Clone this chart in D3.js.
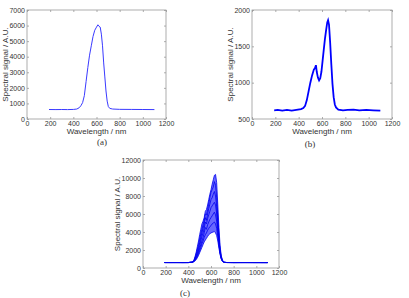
<!DOCTYPE html>
<html>
<head>
<meta charset="utf-8">
<script src="https://cdn.jsdelivr.net/npm/d3@7"></script>
<style>
  body { margin: 0; background: #fff; }
  text { font-family: "Liberation Sans", Arial, sans-serif; fill: #333; }
</style>
</head>
<body>
<div id="chart"></div>
<script>
// Panel (a): single spectrum
const wlA = [190, 250, 300, 350, 400, 430, 450, 465, 480, 495, 510, 525, 540, 555, 570, 585, 600, 612, 622, 632, 642, 652, 662, 672, 682, 692, 702, 715, 740, 800, 900, 1000, 1100];
const sigA = [610, 605, 610, 605, 615, 640, 720, 850, 1050, 1500, 2400, 3300, 4100, 4700, 5300, 5700, 5900, 6050, 5950, 5900, 5450, 4700, 3600, 2700, 1800, 1150, 800, 680, 640, 620, 615, 610, 605];

// Panel (b): two-peak spectrum
const wlB = [190, 220, 260, 300, 340, 380, 420, 440, 455, 470, 485, 500, 515, 530, 540, 548, 555, 565, 575, 585, 595, 605, 615, 625, 635, 645, 652, 660, 670, 680, 690, 700, 710, 720, 740, 780, 820, 870, 920, 980, 1040, 1100];
const sigB = [620, 625, 615, 625, 615, 625, 635, 650, 680, 760, 880, 1000, 1100, 1180, 1200, 1240, 1150, 1070, 1030, 1060, 1150, 1300, 1450, 1600, 1720, 1830, 1860, 1800, 1550, 1250, 980, 800, 700, 660, 630, 620, 625, 630, 620, 625, 620, 615];

// Panel (c): set of spectra
const wlC = [190, 250, 300, 350, 400, 430, 440, 450, 460, 470, 480, 490, 500, 510, 520, 530, 540, 550, 560, 570, 580, 590, 600, 610, 620, 630, 640, 650, 660, 670, 680, 690, 700, 710, 720, 740, 800, 900, 1000, 1100];
const sigC = [
  [610, 600, 605, 600, 610, 630, 650, 700, 800, 950, 1150, 1400, 1700, 2000, 2300, 2600, 2900, 3100, 3300, 3500, 3700, 3800, 3900, 3950, 4000, 4050, 3900, 3600, 3000, 2200, 1500, 1000, 750, 650, 620, 610, 605, 600, 605, 600],
  [605, 610, 600, 605, 600, 635, 660, 720, 850, 1050, 1300, 1600, 1950, 2300, 2700, 3000, 3400, 3700, 3900, 4200, 4400, 4600, 4700, 4900, 5000, 5100, 4900, 4400, 3500, 2500, 1600, 1050, 780, 660, 620, 605, 610, 605, 600, 605],
  [600, 605, 610, 600, 605, 640, 670, 750, 900, 1150, 1450, 1800, 2200, 2600, 3000, 3400, 3900, 4500, 4300, 4800, 5100, 5400, 5600, 5800, 6000, 6200, 5900, 5200, 4000, 2800, 1700, 1100, 800, 670, 625, 610, 600, 605, 610, 600],
  [610, 605, 600, 610, 605, 640, 680, 780, 1000, 1250, 1600, 2000, 2500, 3000, 3500, 3900, 4400, 5100, 4900, 5500, 5900, 6300, 6700, 6900, 7100, 7300, 7000, 6000, 4500, 3000, 1800, 1150, 820, 680, 625, 605, 605, 610, 600, 605],
  [605, 600, 605, 605, 610, 645, 690, 820, 1100, 1400, 1800, 2300, 2800, 3400, 3900, 4400, 4900, 5600, 5300, 6000, 6600, 7100, 7600, 7800, 8200, 8500, 8000, 6800, 5000, 3300, 1900, 1200, 850, 690, 630, 610, 600, 600, 605, 600],
  [600, 610, 605, 600, 605, 650, 700, 860, 1200, 1600, 2100, 2600, 3200, 3800, 4300, 4800, 5300, 6000, 5900, 6500, 7100, 7800, 8400, 8700, 9000, 9600, 9200, 7800, 5600, 3600, 2100, 1300, 880, 700, 630, 610, 605, 605, 600, 605],
  [610, 600, 610, 605, 600, 650, 700, 900, 1300, 1800, 2400, 3000, 3700, 4300, 4900, 5200, 5600, 6300, 6500, 7000, 7600, 8200, 8700, 9300, 9800, 10300, 10400, 9500, 7000, 4500, 2500, 1400, 900, 700, 630, 605, 600, 610, 605, 600]
];

const xTicks = [0, 200, 400, 600, 800, 1000, 1200];
const yTicksA = [0, 1000, 2000, 3000, 4000, 5000, 6000, 7000];
const yTicksB = [500, 1000, 1500, 2000];
const yTicksC = [0, 2000, 4000, 6000, 8000, 10000, 12000];

const svg = d3.select('#chart')
    .append('svg')
    .attr('width', 409)
    .attr('height', 298);

// draws one MATLAB-style axes box with ticks on all four sides
function panel(opts) {
    const { left, top, w, h, yDomain, yTicks, yLabelOff, caption, capY } = opts;
    const g = svg.append('g').attr('transform', `translate(${left},${top})`);
    const x = d3.scaleLinear().domain([0, 1200]).range([0, w]);
    const y = d3.scaleLinear().domain(yDomain).range([h, 0]);

    const styleAxis = sel => {
        sel.select('.domain').remove();
        sel.selectAll('line').attr('stroke', '#999').attr('stroke-width', 0.8);
        sel.selectAll('text')
            .style('font-size', '7px')
            .style('font-family', '"Liberation Sans", Arial, sans-serif')
            .attr('fill', '#333');
    };

    g.append('g').attr('transform', `translate(0,${h})`)
        .call(d3.axisBottom(x).tickValues(xTicks).tickSize(-2).tickPadding(2).tickFormat(d3.format('d')))
        .call(styleAxis);
    g.append('g')
        .call(d3.axisLeft(y).tickValues(yTicks).tickSize(-2).tickPadding(2).tickFormat(d3.format('d')))
        .call(styleAxis);
    g.append('g')
        .call(d3.axisTop(x).tickValues(xTicks).tickSize(-2).tickFormat(''))
        .call(styleAxis);
    g.append('g').attr('transform', `translate(${w},0)`)
        .call(d3.axisRight(y).tickValues(yTicks).tickSize(-2).tickFormat(''))
        .call(styleAxis);

    g.append('rect')
        .attr('width', w).attr('height', h)
        .attr('fill', 'none')
        .attr('stroke', '#999')
        .attr('stroke-width', 0.8);

    g.append('text')
        .attr('x', w / 2).attr('y', h + 15)
        .attr('text-anchor', 'middle')
        .style('font-size', '8px')
        .text('Wavelength / nm');

    g.append('text')
        .attr('transform', `translate(${-yLabelOff},${h / 2}) rotate(-90)`)
        .attr('text-anchor', 'middle')
        .attr('dy', '0.35em')
        .style('font-size', '8px')
        .text('Spectral signal / A.U.');

    svg.append('text')
        .attr('x', opts.capX).attr('y', capY)
        .attr('text-anchor', 'middle')
        .style('font-family', '"Liberation Serif", "Times New Roman", serif')
        .style('font-size', '9px')
        .text(caption);

    return { g, x, y };
}

// (a)
const pa = panel({ left: 27, top: 10, w: 139, h: 109, yDomain: [0, 7000], yTicks: yTicksA, yLabelOff: 21.5, caption: '(a)', capX: 102, capY: 145 });
pa.g.append('path')
    .datum(wlA.map((d, i) => [d, sigA[i]]))
    .attr('fill', 'none')
    .attr('stroke', '#3a3aff')
    .attr('stroke-width', 1)
    .attr('d', d3.line().x(d => pa.x(d[0])).y(d => pa.y(d[1])));

// (b)
const pb = panel({ left: 252, top: 10, w: 140, h: 109, yDomain: [500, 2000], yTicks: yTicksB, yLabelOff: 22, caption: '(b)', capX: 310, capY: 147 });
pb.g.append('path')
    .datum(wlB.map((d, i) => [d, sigB[i]]))
    .attr('fill', 'none')
    .attr('stroke', '#0000ff')
    .attr('stroke-width', 1.8)
    .attr('d', d3.line().x(d => pb.x(d[0])).y(d => pb.y(d[1])));

// (c)
const pc = panel({ left: 143, top: 160, w: 136, h: 108, yDomain: [0, 12000], yTicks: yTicksC, yLabelOff: 26, caption: '(c)', capX: 185, capY: 296 });
const band = wlC.map((d, i) => [d, d3.min(sigC, s => s[i]), d3.max(sigC, s => s[i])]);
pc.g.append('path')
    .datum(band)
    .attr('fill', '#3535ff')
    .attr('fill-opacity', 0.75)
    .attr('d', d3.area().x(d => pc.x(d[0])).y0(d => pc.y(d[1])).y1(d => pc.y(d[2])));
pc.g.selectAll('.spec')
    .data(sigC)
    .enter()
    .append('path')
    .attr('class', 'spec')
    .attr('fill', 'none')
    .attr('stroke', '#0000ee')
    .attr('stroke-width', 0.8)
    .attr('d', s => d3.line().x((d, i) => pc.x(wlC[i])).y(d => pc.y(d))(s));
</script>
</body>
</html>
